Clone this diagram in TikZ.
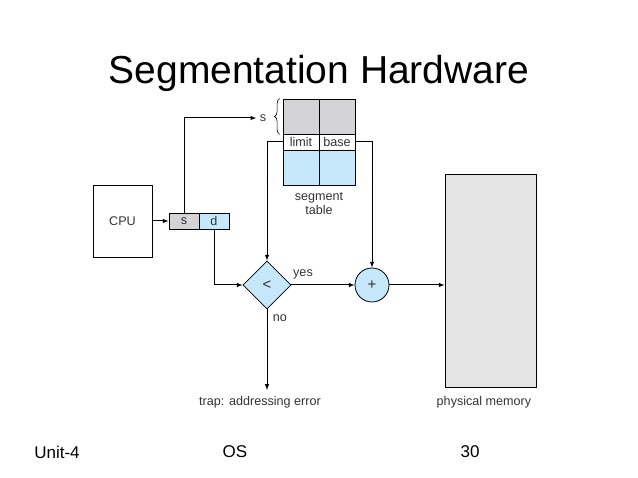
\documentclass[tikz,border=0pt]{standalone}
\usepackage{fontspec}
\setmainfont{Liberation Sans}
\usetikzlibrary{shapes.geometric,decorations.pathreplacing}
\definecolor{segblue}{RGB}{198,232,250}
\definecolor{seggray}{RGB}{212,212,214}
\definecolor{memgray}{RGB}{228,228,228}
\tikzset{
  box/.style={draw, line width=0.8pt, minimum height=16pt, inner sep=0pt},
  wire/.style={line width=1pt, -latex},
  lbl/.style={font=\fontsize{12.6}{14}\selectfont, text=black!80}
}
\begin{document}
\begin{tikzpicture}[x=1pt, y=-1pt]
        \useasboundingbox (0,0) rectangle (638,478);
        % Title and footer
        \node[font=\fontsize{39}{40}\selectfont] (title) at (319,73) {Segmentation Hardware};
        \node[font=\fontsize{17}{18}\selectfont] (unit) at (57,452) {Unit-4};
        \node[font=\fontsize{17}{18}\selectfont] (os) at (235,452) {OS};
        \node[font=\fontsize{17}{18}\selectfont] (page) at (470,452) {30};
        
        % CPU and logical address
        \node[box, minimum width=59pt, minimum height=72pt, lbl] (cpu) at (122.5,221) {CPU};
        \node[box, fill=seggray, minimum width=30pt, lbl] (s) at (184,221) {s};
        \node[box, fill=segblue, minimum width=30pt, lbl] (d) at (214,221) {d};
        
        % Segment table
        \node[box, fill=seggray, minimum width=36pt, minimum height=35pt] (g1) at (301,116.5) {};
        \node[box, fill=seggray, minimum width=36pt, minimum height=35pt] (g2) at (337,116.5) {};
        \node[box, fill=white, minimum width=36pt, lbl] (limit) at (301,142) {limit};
        \node[box, fill=white, minimum width=36pt, lbl] (base) at (337,142) {base};
        \node[box, fill=segblue, minimum width=36pt, minimum height=35pt] (b1) at (301,167.5) {};
        \node[box, fill=segblue, minimum width=36pt, minimum height=35pt] (b2) at (337,167.5) {};
        \node[lbl, align=center] (segtab) at (319,203) {segment\\table};
        \draw[line width=0.6pt, decorate, decoration={brace, amplitude=5pt}] (g1.south west) ++(-3,0) coordinate (br1) -- (g1.north west -| br1) coordinate (br2);
        \node[lbl] (sidx) at (263,118) {s};
        
        % Compare and add
        \node[diamond, draw, line width=0.8pt, fill=segblue, minimum width=48pt, minimum height=48pt, inner sep=0pt, font=\fontsize{15}{16}\selectfont, text=black!80] (cmp) at (267,285) {<};
        \node[circle, draw, line width=0.8pt, fill=segblue, minimum size=34pt, inner sep=0pt, font=\fontsize{15}{16}\selectfont, text=black!80] (add) at (372,285) {+};
        \node[box, fill=memgray, minimum width=91pt, minimum height=213pt] (mem) at (490.5,280.5) {};
        \coordinate (trap) at (267,390);
        
        % Labels
        \node[lbl] (yes) at (303,274) {yes};
        \node[lbl] (no) at (280,318) {no};
        \node[lbl] (traplbl) at (260,402) {trap: addressing error};
        \node[lbl] (memlbl) at (484,402) {physical memory};
        
        % Connectors
        \draw[wire] (cpu) -- (s);
        \draw[wire] (s.north) |- (sidx.west);
        \draw[wire] (d.south) |- (cmp.west);
        \draw[wire] (limit.west) -| (cmp.north);
        \draw[wire] (base.east) -| (add.north);
        \draw[wire] (cmp.east) -- (add.west);
        \draw[wire] (add.east) -- (mem.west |- add.east);
        \draw[wire] (cmp.south) -- (trap);
    \end{tikzpicture}
\end{document}
